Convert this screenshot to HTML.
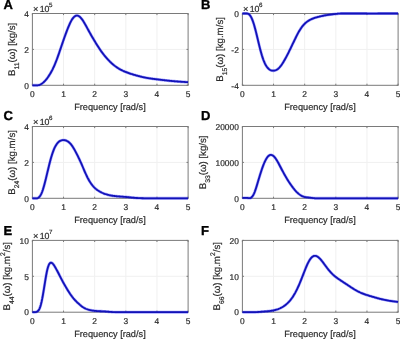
<!DOCTYPE html><html><head><meta charset="utf-8"><style>html,body{margin:0;padding:0;background:#fff;width:400px;height:339px;overflow:hidden}svg{display:block}text{font-family:"Liberation Sans", Arial, Helvetica, sans-serif;fill:#2b2b2b;stroke:#2b2b2b;stroke-width:0.2px;text-rendering:geometricPrecision}</style></head><body>
<svg width="400" height="339" viewBox="0 0 400 339">
<rect width="400" height="339" fill="#fff"/>
<line x1="63.54" y1="13.50" x2="63.54" y2="85.30" stroke="#f0f0f0" stroke-width="1"/>
<line x1="94.68" y1="13.50" x2="94.68" y2="85.30" stroke="#f0f0f0" stroke-width="1"/>
<line x1="125.82" y1="13.50" x2="125.82" y2="85.30" stroke="#f0f0f0" stroke-width="1"/>
<line x1="156.96" y1="13.50" x2="156.96" y2="85.30" stroke="#f0f0f0" stroke-width="1"/>
<line x1="32.40" y1="49.40" x2="188.10" y2="49.40" stroke="#f0f0f0" stroke-width="1"/>
<rect x="32.40" y="13.50" width="155.70" height="71.80" fill="none" stroke="#7a7a7a" stroke-width="1"/>
<line x1="32.40" y1="85.30" x2="32.40" y2="83.70" stroke="#7a7a7a" stroke-width="1"/>
<line x1="32.40" y1="13.50" x2="32.40" y2="15.10" stroke="#7a7a7a" stroke-width="1"/>
<line x1="63.54" y1="85.30" x2="63.54" y2="83.70" stroke="#7a7a7a" stroke-width="1"/>
<line x1="63.54" y1="13.50" x2="63.54" y2="15.10" stroke="#7a7a7a" stroke-width="1"/>
<line x1="94.68" y1="85.30" x2="94.68" y2="83.70" stroke="#7a7a7a" stroke-width="1"/>
<line x1="94.68" y1="13.50" x2="94.68" y2="15.10" stroke="#7a7a7a" stroke-width="1"/>
<line x1="125.82" y1="85.30" x2="125.82" y2="83.70" stroke="#7a7a7a" stroke-width="1"/>
<line x1="125.82" y1="13.50" x2="125.82" y2="15.10" stroke="#7a7a7a" stroke-width="1"/>
<line x1="156.96" y1="85.30" x2="156.96" y2="83.70" stroke="#7a7a7a" stroke-width="1"/>
<line x1="156.96" y1="13.50" x2="156.96" y2="15.10" stroke="#7a7a7a" stroke-width="1"/>
<line x1="188.10" y1="85.30" x2="188.10" y2="83.70" stroke="#7a7a7a" stroke-width="1"/>
<line x1="188.10" y1="13.50" x2="188.10" y2="15.10" stroke="#7a7a7a" stroke-width="1"/>
<line x1="32.40" y1="85.30" x2="34.00" y2="85.30" stroke="#7a7a7a" stroke-width="1"/>
<line x1="188.10" y1="85.30" x2="186.50" y2="85.30" stroke="#7a7a7a" stroke-width="1"/>
<line x1="32.40" y1="49.40" x2="34.00" y2="49.40" stroke="#7a7a7a" stroke-width="1"/>
<line x1="188.10" y1="49.40" x2="186.50" y2="49.40" stroke="#7a7a7a" stroke-width="1"/>
<line x1="32.40" y1="13.50" x2="34.00" y2="13.50" stroke="#7a7a7a" stroke-width="1"/>
<line x1="188.10" y1="13.50" x2="186.50" y2="13.50" stroke="#7a7a7a" stroke-width="1"/>
<path d="M32.40 85.30 L33.05 85.30 L33.70 85.30 L34.35 85.30 L35.01 85.30 L35.66 85.30 L36.31 85.30 L36.96 85.30 L37.61 85.30 L38.26 85.22 L38.91 85.05 L39.57 84.82 L40.22 84.53 L40.87 84.19 L41.52 83.81 L42.17 83.38 L42.82 82.90 L43.47 82.36 L44.13 81.76 L44.78 81.10 L45.43 80.39 L46.08 79.64 L46.73 78.83 L47.38 77.98 L48.04 77.07 L48.69 76.12 L49.34 75.11 L49.99 74.06 L50.64 72.95 L51.29 71.79 L51.94 70.57 L52.60 69.29 L53.25 67.95 L53.90 66.54 L54.55 65.07 L55.20 63.52 L55.85 61.91 L56.50 60.23 L57.16 58.48 L57.81 56.68 L58.46 54.83 L59.11 52.96 L59.76 51.06 L60.41 49.15 L61.06 47.23 L61.72 45.31 L62.37 43.40 L63.02 41.50 L63.67 39.62 L64.32 37.77 L64.97 35.95 L65.62 34.16 L66.28 32.40 L66.93 30.69 L67.58 29.01 L68.23 27.38 L68.88 25.81 L69.53 24.31 L70.18 22.90 L70.84 21.60 L71.49 20.40 L72.14 19.33 L72.79 18.38 L73.44 17.57 L74.09 16.89 L74.75 16.36 L75.40 15.96 L76.05 15.69 L76.70 15.57 L77.35 15.59 L78.00 15.74 L78.65 16.01 L79.31 16.42 L79.96 16.94 L80.61 17.58 L81.26 18.33 L81.91 19.17 L82.56 20.08 L83.21 21.07 L83.87 22.12 L84.52 23.22 L85.17 24.35 L85.82 25.51 L86.47 26.69 L87.12 27.88 L87.77 29.07 L88.43 30.26 L89.08 31.45 L89.73 32.63 L90.38 33.79 L91.03 34.94 L91.68 36.08 L92.33 37.20 L92.99 38.31 L93.64 39.41 L94.29 40.50 L94.94 41.58 L95.59 42.65 L96.24 43.72 L96.89 44.77 L97.55 45.80 L98.20 46.83 L98.85 47.83 L99.50 48.81 L100.15 49.77 L100.80 50.70 L101.46 51.62 L102.11 52.50 L102.76 53.37 L103.41 54.21 L104.06 55.03 L104.71 55.83 L105.36 56.61 L106.02 57.37 L106.67 58.12 L107.32 58.85 L107.97 59.56 L108.62 60.25 L109.27 60.93 L109.92 61.59 L110.58 62.23 L111.23 62.85 L111.88 63.45 L112.53 64.02 L113.18 64.58 L113.83 65.12 L114.48 65.64 L115.14 66.14 L115.79 66.62 L116.44 67.08 L117.09 67.52 L117.74 67.95 L118.39 68.36 L119.04 68.75 L119.70 69.12 L120.35 69.49 L121.00 69.83 L121.65 70.16 L122.30 70.48 L122.95 70.79 L123.61 71.08 L124.26 71.36 L124.91 71.64 L125.56 71.90 L126.21 72.15 L126.86 72.40 L127.51 72.64 L128.17 72.88 L128.82 73.11 L129.47 73.34 L130.12 73.56 L130.77 73.78 L131.42 73.99 L132.07 74.20 L132.73 74.40 L133.38 74.60 L134.03 74.79 L134.68 74.98 L135.33 75.17 L135.98 75.35 L136.63 75.53 L137.29 75.71 L137.94 75.89 L138.59 76.06 L139.24 76.23 L139.89 76.40 L140.54 76.57 L141.19 76.73 L141.85 76.89 L142.50 77.04 L143.15 77.19 L143.80 77.33 L144.45 77.47 L145.10 77.60 L145.75 77.72 L146.41 77.84 L147.06 77.96 L147.71 78.07 L148.36 78.18 L149.01 78.28 L149.66 78.38 L150.32 78.47 L150.97 78.57 L151.62 78.66 L152.27 78.74 L152.92 78.83 L153.57 78.91 L154.22 79.00 L154.88 79.08 L155.53 79.16 L156.18 79.24 L156.83 79.31 L157.48 79.39 L158.13 79.47 L158.78 79.55 L159.44 79.63 L160.09 79.71 L160.74 79.79 L161.39 79.87 L162.04 79.94 L162.69 80.02 L163.34 80.10 L164.00 80.18 L164.65 80.25 L165.30 80.33 L165.95 80.40 L166.60 80.48 L167.25 80.55 L167.90 80.62 L168.56 80.69 L169.21 80.76 L169.86 80.83 L170.51 80.89 L171.16 80.96 L171.81 81.02 L172.46 81.08 L173.12 81.13 L173.77 81.19 L174.42 81.24 L175.07 81.30 L175.72 81.35 L176.37 81.40 L177.03 81.45 L177.68 81.50 L178.33 81.55 L178.98 81.59 L179.63 81.64 L180.28 81.69 L180.93 81.73 L181.59 81.78 L182.24 81.82 L182.89 81.86 L183.54 81.91 L184.19 81.95 L184.84 81.99 L185.49 82.03 L186.15 82.08 L186.80 82.12 L187.45 82.16 L188.10 82.20" fill="none" stroke="#3c3cff" stroke-opacity="0.45" stroke-width="2.90" stroke-linejoin="round" stroke-linecap="butt"/>
<path d="M32.40 85.30 L33.05 85.30 L33.70 85.30 L34.35 85.30 L35.01 85.30 L35.66 85.30 L36.31 85.30 L36.96 85.30 L37.61 85.30 L38.26 85.22 L38.91 85.05 L39.57 84.82 L40.22 84.53 L40.87 84.19 L41.52 83.81 L42.17 83.38 L42.82 82.90 L43.47 82.36 L44.13 81.76 L44.78 81.10 L45.43 80.39 L46.08 79.64 L46.73 78.83 L47.38 77.98 L48.04 77.07 L48.69 76.12 L49.34 75.11 L49.99 74.06 L50.64 72.95 L51.29 71.79 L51.94 70.57 L52.60 69.29 L53.25 67.95 L53.90 66.54 L54.55 65.07 L55.20 63.52 L55.85 61.91 L56.50 60.23 L57.16 58.48 L57.81 56.68 L58.46 54.83 L59.11 52.96 L59.76 51.06 L60.41 49.15 L61.06 47.23 L61.72 45.31 L62.37 43.40 L63.02 41.50 L63.67 39.62 L64.32 37.77 L64.97 35.95 L65.62 34.16 L66.28 32.40 L66.93 30.69 L67.58 29.01 L68.23 27.38 L68.88 25.81 L69.53 24.31 L70.18 22.90 L70.84 21.60 L71.49 20.40 L72.14 19.33 L72.79 18.38 L73.44 17.57 L74.09 16.89 L74.75 16.36 L75.40 15.96 L76.05 15.69 L76.70 15.57 L77.35 15.59 L78.00 15.74 L78.65 16.01 L79.31 16.42 L79.96 16.94 L80.61 17.58 L81.26 18.33 L81.91 19.17 L82.56 20.08 L83.21 21.07 L83.87 22.12 L84.52 23.22 L85.17 24.35 L85.82 25.51 L86.47 26.69 L87.12 27.88 L87.77 29.07 L88.43 30.26 L89.08 31.45 L89.73 32.63 L90.38 33.79 L91.03 34.94 L91.68 36.08 L92.33 37.20 L92.99 38.31 L93.64 39.41 L94.29 40.50 L94.94 41.58 L95.59 42.65 L96.24 43.72 L96.89 44.77 L97.55 45.80 L98.20 46.83 L98.85 47.83 L99.50 48.81 L100.15 49.77 L100.80 50.70 L101.46 51.62 L102.11 52.50 L102.76 53.37 L103.41 54.21 L104.06 55.03 L104.71 55.83 L105.36 56.61 L106.02 57.37 L106.67 58.12 L107.32 58.85 L107.97 59.56 L108.62 60.25 L109.27 60.93 L109.92 61.59 L110.58 62.23 L111.23 62.85 L111.88 63.45 L112.53 64.02 L113.18 64.58 L113.83 65.12 L114.48 65.64 L115.14 66.14 L115.79 66.62 L116.44 67.08 L117.09 67.52 L117.74 67.95 L118.39 68.36 L119.04 68.75 L119.70 69.12 L120.35 69.49 L121.00 69.83 L121.65 70.16 L122.30 70.48 L122.95 70.79 L123.61 71.08 L124.26 71.36 L124.91 71.64 L125.56 71.90 L126.21 72.15 L126.86 72.40 L127.51 72.64 L128.17 72.88 L128.82 73.11 L129.47 73.34 L130.12 73.56 L130.77 73.78 L131.42 73.99 L132.07 74.20 L132.73 74.40 L133.38 74.60 L134.03 74.79 L134.68 74.98 L135.33 75.17 L135.98 75.35 L136.63 75.53 L137.29 75.71 L137.94 75.89 L138.59 76.06 L139.24 76.23 L139.89 76.40 L140.54 76.57 L141.19 76.73 L141.85 76.89 L142.50 77.04 L143.15 77.19 L143.80 77.33 L144.45 77.47 L145.10 77.60 L145.75 77.72 L146.41 77.84 L147.06 77.96 L147.71 78.07 L148.36 78.18 L149.01 78.28 L149.66 78.38 L150.32 78.47 L150.97 78.57 L151.62 78.66 L152.27 78.74 L152.92 78.83 L153.57 78.91 L154.22 79.00 L154.88 79.08 L155.53 79.16 L156.18 79.24 L156.83 79.31 L157.48 79.39 L158.13 79.47 L158.78 79.55 L159.44 79.63 L160.09 79.71 L160.74 79.79 L161.39 79.87 L162.04 79.94 L162.69 80.02 L163.34 80.10 L164.00 80.18 L164.65 80.25 L165.30 80.33 L165.95 80.40 L166.60 80.48 L167.25 80.55 L167.90 80.62 L168.56 80.69 L169.21 80.76 L169.86 80.83 L170.51 80.89 L171.16 80.96 L171.81 81.02 L172.46 81.08 L173.12 81.13 L173.77 81.19 L174.42 81.24 L175.07 81.30 L175.72 81.35 L176.37 81.40 L177.03 81.45 L177.68 81.50 L178.33 81.55 L178.98 81.59 L179.63 81.64 L180.28 81.69 L180.93 81.73 L181.59 81.78 L182.24 81.82 L182.89 81.86 L183.54 81.91 L184.19 81.95 L184.84 81.99 L185.49 82.03 L186.15 82.08 L186.80 82.12 L187.45 82.16 L188.10 82.20" fill="none" stroke="#1212b8" stroke-width="1.80" stroke-linejoin="round" stroke-linecap="butt"/>
<text x="32.40" y="97.10" font-size="8.40" text-anchor="middle">0</text>
<text x="63.54" y="97.10" font-size="8.40" text-anchor="middle">1</text>
<text x="94.68" y="97.10" font-size="8.40" text-anchor="middle">2</text>
<text x="125.82" y="97.10" font-size="8.40" text-anchor="middle">3</text>
<text x="156.96" y="97.10" font-size="8.40" text-anchor="middle">4</text>
<text x="188.10" y="97.10" font-size="8.40" text-anchor="middle">5</text>
<text x="28.80" y="88.50" font-size="8.40" text-anchor="end">0</text>
<text x="28.80" y="52.60" font-size="8.40" text-anchor="end">2</text>
<text x="28.80" y="16.70" font-size="8.40" text-anchor="end">4</text>
<text x="32.90" y="12.00" font-size="9.2">×</text>
<text x="39.70" y="11.60" font-size="8.8">10</text>
<text x="49.00" y="6.90" font-size="6.2">5</text>
<text x="109.95" y="110.10" font-size="9.20" text-anchor="middle">Frequency [rad/s]</text>
<text transform="translate(14.70 49.40) rotate(-90)" font-size="9.70" text-anchor="middle"><tspan dy="0.00">B</tspan><tspan font-size="6.79" dy="4.20">11</tspan><tspan dy="-4.20">(ω) [kg/s]</tspan></text>
<text x="3.50" y="9.00" font-size="13" font-weight="bold" style="fill:#000;stroke:#000;stroke-width:0.35px">A</text>
<line x1="273.54" y1="13.50" x2="273.54" y2="85.30" stroke="#f0f0f0" stroke-width="1"/>
<line x1="304.68" y1="13.50" x2="304.68" y2="85.30" stroke="#f0f0f0" stroke-width="1"/>
<line x1="335.82" y1="13.50" x2="335.82" y2="85.30" stroke="#f0f0f0" stroke-width="1"/>
<line x1="366.96" y1="13.50" x2="366.96" y2="85.30" stroke="#f0f0f0" stroke-width="1"/>
<line x1="242.40" y1="49.40" x2="398.10" y2="49.40" stroke="#f0f0f0" stroke-width="1"/>
<rect x="242.40" y="13.50" width="155.70" height="71.80" fill="none" stroke="#7a7a7a" stroke-width="1"/>
<line x1="242.40" y1="85.30" x2="242.40" y2="83.70" stroke="#7a7a7a" stroke-width="1"/>
<line x1="242.40" y1="13.50" x2="242.40" y2="15.10" stroke="#7a7a7a" stroke-width="1"/>
<line x1="273.54" y1="85.30" x2="273.54" y2="83.70" stroke="#7a7a7a" stroke-width="1"/>
<line x1="273.54" y1="13.50" x2="273.54" y2="15.10" stroke="#7a7a7a" stroke-width="1"/>
<line x1="304.68" y1="85.30" x2="304.68" y2="83.70" stroke="#7a7a7a" stroke-width="1"/>
<line x1="304.68" y1="13.50" x2="304.68" y2="15.10" stroke="#7a7a7a" stroke-width="1"/>
<line x1="335.82" y1="85.30" x2="335.82" y2="83.70" stroke="#7a7a7a" stroke-width="1"/>
<line x1="335.82" y1="13.50" x2="335.82" y2="15.10" stroke="#7a7a7a" stroke-width="1"/>
<line x1="366.96" y1="85.30" x2="366.96" y2="83.70" stroke="#7a7a7a" stroke-width="1"/>
<line x1="366.96" y1="13.50" x2="366.96" y2="15.10" stroke="#7a7a7a" stroke-width="1"/>
<line x1="398.10" y1="85.30" x2="398.10" y2="83.70" stroke="#7a7a7a" stroke-width="1"/>
<line x1="398.10" y1="13.50" x2="398.10" y2="15.10" stroke="#7a7a7a" stroke-width="1"/>
<line x1="242.40" y1="85.30" x2="244.00" y2="85.30" stroke="#7a7a7a" stroke-width="1"/>
<line x1="398.10" y1="85.30" x2="396.50" y2="85.30" stroke="#7a7a7a" stroke-width="1"/>
<line x1="242.40" y1="49.40" x2="244.00" y2="49.40" stroke="#7a7a7a" stroke-width="1"/>
<line x1="398.10" y1="49.40" x2="396.50" y2="49.40" stroke="#7a7a7a" stroke-width="1"/>
<line x1="242.40" y1="13.50" x2="244.00" y2="13.50" stroke="#7a7a7a" stroke-width="1"/>
<line x1="398.10" y1="13.50" x2="396.50" y2="13.50" stroke="#7a7a7a" stroke-width="1"/>
<path d="M242.40 13.50 L243.05 13.50 L243.70 13.50 L244.35 13.50 L245.01 13.50 L245.66 13.50 L246.31 13.50 L246.96 13.50 L247.61 13.57 L248.26 13.83 L248.91 14.24 L249.57 14.83 L250.22 15.63 L250.87 16.65 L251.52 17.89 L252.17 19.37 L252.82 21.06 L253.47 22.98 L254.13 25.09 L254.78 27.39 L255.43 29.83 L256.08 32.40 L256.73 35.05 L257.38 37.76 L258.04 40.50 L258.69 43.22 L259.34 45.90 L259.99 48.50 L260.64 50.99 L261.29 53.35 L261.94 55.56 L262.60 57.60 L263.25 59.47 L263.90 61.17 L264.55 62.69 L265.20 64.06 L265.85 65.26 L266.50 66.31 L267.16 67.22 L267.81 68.00 L268.46 68.66 L269.11 69.21 L269.76 69.66 L270.41 70.03 L271.06 70.31 L271.72 70.51 L272.37 70.64 L273.02 70.70 L273.67 70.69 L274.32 70.62 L274.97 70.47 L275.62 70.26 L276.28 69.98 L276.93 69.62 L277.58 69.18 L278.23 68.67 L278.88 68.08 L279.53 67.41 L280.18 66.66 L280.84 65.84 L281.49 64.95 L282.14 63.99 L282.79 62.98 L283.44 61.93 L284.09 60.83 L284.75 59.69 L285.40 58.52 L286.05 57.32 L286.70 56.10 L287.35 54.85 L288.00 53.58 L288.65 52.29 L289.31 50.97 L289.96 49.64 L290.61 48.29 L291.26 46.94 L291.91 45.58 L292.56 44.23 L293.21 42.87 L293.87 41.52 L294.52 40.17 L295.17 38.83 L295.82 37.49 L296.47 36.18 L297.12 34.89 L297.77 33.64 L298.43 32.43 L299.08 31.28 L299.73 30.18 L300.38 29.15 L301.03 28.17 L301.68 27.26 L302.33 26.40 L302.99 25.61 L303.64 24.86 L304.29 24.17 L304.94 23.53 L305.59 22.93 L306.24 22.37 L306.89 21.85 L307.55 21.37 L308.20 20.93 L308.85 20.51 L309.50 20.13 L310.15 19.78 L310.80 19.45 L311.46 19.15 L312.11 18.86 L312.76 18.60 L313.41 18.36 L314.06 18.13 L314.71 17.91 L315.36 17.71 L316.02 17.51 L316.67 17.32 L317.32 17.14 L317.97 16.97 L318.62 16.80 L319.27 16.64 L319.92 16.48 L320.58 16.32 L321.23 16.17 L321.88 16.03 L322.53 15.89 L323.18 15.75 L323.83 15.62 L324.48 15.49 L325.14 15.37 L325.79 15.25 L326.44 15.14 L327.09 15.04 L327.74 14.94 L328.39 14.85 L329.04 14.75 L329.70 14.66 L330.35 14.58 L331.00 14.49 L331.65 14.41 L332.30 14.33 L332.95 14.25 L333.61 14.18 L334.26 14.10 L334.91 14.03 L335.56 13.96 L336.21 13.89 L336.86 13.83 L337.51 13.77 L338.17 13.71 L338.82 13.66 L339.47 13.61 L340.12 13.56 L340.77 13.52 L341.42 13.50 L342.07 13.50 L342.73 13.50 L343.38 13.50 L344.03 13.50 L344.68 13.50 L345.33 13.50 L345.98 13.50 L346.63 13.50 L347.29 13.50 L347.94 13.50 L348.59 13.50 L349.24 13.50 L349.89 13.50 L350.54 13.50 L351.19 13.50 L351.85 13.50 L352.50 13.50 L353.15 13.50 L353.80 13.50 L354.45 13.50 L355.10 13.50 L355.75 13.50 L356.41 13.50 L357.06 13.50 L357.71 13.50 L358.36 13.50 L359.01 13.50 L359.66 13.50 L360.32 13.50 L360.97 13.50 L361.62 13.50 L362.27 13.50 L362.92 13.50 L363.57 13.50 L364.22 13.50 L364.88 13.50 L365.53 13.50 L366.18 13.51 L366.83 13.52 L367.48 13.53 L368.13 13.53 L368.78 13.54 L369.44 13.54 L370.09 13.54 L370.74 13.55 L371.39 13.55 L372.04 13.55 L372.69 13.55 L373.34 13.55 L374.00 13.55 L374.65 13.54 L375.30 13.54 L375.95 13.54 L376.60 13.53 L377.25 13.53 L377.90 13.52 L378.56 13.51 L379.21 13.51 L379.86 13.50 L380.51 13.50 L381.16 13.50 L381.81 13.50 L382.46 13.50 L383.12 13.50 L383.77 13.50 L384.42 13.50 L385.07 13.50 L385.72 13.50 L386.37 13.50 L387.03 13.50 L387.68 13.50 L388.33 13.50 L388.98 13.50 L389.63 13.50 L390.28 13.50 L390.93 13.50 L391.59 13.50 L392.24 13.50 L392.89 13.50 L393.54 13.50 L394.19 13.50 L394.84 13.50 L395.49 13.50 L396.15 13.50 L396.80 13.50 L397.45 13.50 L398.10 13.50" fill="none" stroke="#3c3cff" stroke-opacity="0.45" stroke-width="2.90" stroke-linejoin="round" stroke-linecap="butt"/>
<path d="M242.40 13.50 L243.05 13.50 L243.70 13.50 L244.35 13.50 L245.01 13.50 L245.66 13.50 L246.31 13.50 L246.96 13.50 L247.61 13.57 L248.26 13.83 L248.91 14.24 L249.57 14.83 L250.22 15.63 L250.87 16.65 L251.52 17.89 L252.17 19.37 L252.82 21.06 L253.47 22.98 L254.13 25.09 L254.78 27.39 L255.43 29.83 L256.08 32.40 L256.73 35.05 L257.38 37.76 L258.04 40.50 L258.69 43.22 L259.34 45.90 L259.99 48.50 L260.64 50.99 L261.29 53.35 L261.94 55.56 L262.60 57.60 L263.25 59.47 L263.90 61.17 L264.55 62.69 L265.20 64.06 L265.85 65.26 L266.50 66.31 L267.16 67.22 L267.81 68.00 L268.46 68.66 L269.11 69.21 L269.76 69.66 L270.41 70.03 L271.06 70.31 L271.72 70.51 L272.37 70.64 L273.02 70.70 L273.67 70.69 L274.32 70.62 L274.97 70.47 L275.62 70.26 L276.28 69.98 L276.93 69.62 L277.58 69.18 L278.23 68.67 L278.88 68.08 L279.53 67.41 L280.18 66.66 L280.84 65.84 L281.49 64.95 L282.14 63.99 L282.79 62.98 L283.44 61.93 L284.09 60.83 L284.75 59.69 L285.40 58.52 L286.05 57.32 L286.70 56.10 L287.35 54.85 L288.00 53.58 L288.65 52.29 L289.31 50.97 L289.96 49.64 L290.61 48.29 L291.26 46.94 L291.91 45.58 L292.56 44.23 L293.21 42.87 L293.87 41.52 L294.52 40.17 L295.17 38.83 L295.82 37.49 L296.47 36.18 L297.12 34.89 L297.77 33.64 L298.43 32.43 L299.08 31.28 L299.73 30.18 L300.38 29.15 L301.03 28.17 L301.68 27.26 L302.33 26.40 L302.99 25.61 L303.64 24.86 L304.29 24.17 L304.94 23.53 L305.59 22.93 L306.24 22.37 L306.89 21.85 L307.55 21.37 L308.20 20.93 L308.85 20.51 L309.50 20.13 L310.15 19.78 L310.80 19.45 L311.46 19.15 L312.11 18.86 L312.76 18.60 L313.41 18.36 L314.06 18.13 L314.71 17.91 L315.36 17.71 L316.02 17.51 L316.67 17.32 L317.32 17.14 L317.97 16.97 L318.62 16.80 L319.27 16.64 L319.92 16.48 L320.58 16.32 L321.23 16.17 L321.88 16.03 L322.53 15.89 L323.18 15.75 L323.83 15.62 L324.48 15.49 L325.14 15.37 L325.79 15.25 L326.44 15.14 L327.09 15.04 L327.74 14.94 L328.39 14.85 L329.04 14.75 L329.70 14.66 L330.35 14.58 L331.00 14.49 L331.65 14.41 L332.30 14.33 L332.95 14.25 L333.61 14.18 L334.26 14.10 L334.91 14.03 L335.56 13.96 L336.21 13.89 L336.86 13.83 L337.51 13.77 L338.17 13.71 L338.82 13.66 L339.47 13.61 L340.12 13.56 L340.77 13.52 L341.42 13.50 L342.07 13.50 L342.73 13.50 L343.38 13.50 L344.03 13.50 L344.68 13.50 L345.33 13.50 L345.98 13.50 L346.63 13.50 L347.29 13.50 L347.94 13.50 L348.59 13.50 L349.24 13.50 L349.89 13.50 L350.54 13.50 L351.19 13.50 L351.85 13.50 L352.50 13.50 L353.15 13.50 L353.80 13.50 L354.45 13.50 L355.10 13.50 L355.75 13.50 L356.41 13.50 L357.06 13.50 L357.71 13.50 L358.36 13.50 L359.01 13.50 L359.66 13.50 L360.32 13.50 L360.97 13.50 L361.62 13.50 L362.27 13.50 L362.92 13.50 L363.57 13.50 L364.22 13.50 L364.88 13.50 L365.53 13.50 L366.18 13.51 L366.83 13.52 L367.48 13.53 L368.13 13.53 L368.78 13.54 L369.44 13.54 L370.09 13.54 L370.74 13.55 L371.39 13.55 L372.04 13.55 L372.69 13.55 L373.34 13.55 L374.00 13.55 L374.65 13.54 L375.30 13.54 L375.95 13.54 L376.60 13.53 L377.25 13.53 L377.90 13.52 L378.56 13.51 L379.21 13.51 L379.86 13.50 L380.51 13.50 L381.16 13.50 L381.81 13.50 L382.46 13.50 L383.12 13.50 L383.77 13.50 L384.42 13.50 L385.07 13.50 L385.72 13.50 L386.37 13.50 L387.03 13.50 L387.68 13.50 L388.33 13.50 L388.98 13.50 L389.63 13.50 L390.28 13.50 L390.93 13.50 L391.59 13.50 L392.24 13.50 L392.89 13.50 L393.54 13.50 L394.19 13.50 L394.84 13.50 L395.49 13.50 L396.15 13.50 L396.80 13.50 L397.45 13.50 L398.10 13.50" fill="none" stroke="#1212b8" stroke-width="1.80" stroke-linejoin="round" stroke-linecap="butt"/>
<text x="242.40" y="97.10" font-size="8.40" text-anchor="middle">0</text>
<text x="273.54" y="97.10" font-size="8.40" text-anchor="middle">1</text>
<text x="304.68" y="97.10" font-size="8.40" text-anchor="middle">2</text>
<text x="335.82" y="97.10" font-size="8.40" text-anchor="middle">3</text>
<text x="366.96" y="97.10" font-size="8.40" text-anchor="middle">4</text>
<text x="398.10" y="97.10" font-size="8.40" text-anchor="middle">5</text>
<text x="238.80" y="88.50" font-size="8.40" text-anchor="end">-4</text>
<text x="238.80" y="52.60" font-size="8.40" text-anchor="end">-2</text>
<text x="238.80" y="16.70" font-size="8.40" text-anchor="end">0</text>
<text x="242.90" y="12.00" font-size="9.2">×</text>
<text x="249.70" y="11.60" font-size="8.8">10</text>
<text x="259.00" y="6.90" font-size="6.2">6</text>
<text x="319.95" y="110.10" font-size="9.20" text-anchor="middle">Frequency [rad/s]</text>
<text transform="translate(222.50 49.40) rotate(-90)" font-size="9.70" text-anchor="middle"><tspan dy="0.00">B</tspan><tspan font-size="6.79" dy="4.20">15</tspan><tspan dy="-4.20">(ω) [kg.m/s]</tspan></text>
<text x="201.00" y="9.00" font-size="13" font-weight="bold" style="fill:#000;stroke:#000;stroke-width:0.35px">B</text>
<line x1="63.54" y1="126.50" x2="63.54" y2="198.30" stroke="#f0f0f0" stroke-width="1"/>
<line x1="94.68" y1="126.50" x2="94.68" y2="198.30" stroke="#f0f0f0" stroke-width="1"/>
<line x1="125.82" y1="126.50" x2="125.82" y2="198.30" stroke="#f0f0f0" stroke-width="1"/>
<line x1="156.96" y1="126.50" x2="156.96" y2="198.30" stroke="#f0f0f0" stroke-width="1"/>
<line x1="32.40" y1="162.40" x2="188.10" y2="162.40" stroke="#f0f0f0" stroke-width="1"/>
<rect x="32.40" y="126.50" width="155.70" height="71.80" fill="none" stroke="#7a7a7a" stroke-width="1"/>
<line x1="32.40" y1="198.30" x2="32.40" y2="196.70" stroke="#7a7a7a" stroke-width="1"/>
<line x1="32.40" y1="126.50" x2="32.40" y2="128.10" stroke="#7a7a7a" stroke-width="1"/>
<line x1="63.54" y1="198.30" x2="63.54" y2="196.70" stroke="#7a7a7a" stroke-width="1"/>
<line x1="63.54" y1="126.50" x2="63.54" y2="128.10" stroke="#7a7a7a" stroke-width="1"/>
<line x1="94.68" y1="198.30" x2="94.68" y2="196.70" stroke="#7a7a7a" stroke-width="1"/>
<line x1="94.68" y1="126.50" x2="94.68" y2="128.10" stroke="#7a7a7a" stroke-width="1"/>
<line x1="125.82" y1="198.30" x2="125.82" y2="196.70" stroke="#7a7a7a" stroke-width="1"/>
<line x1="125.82" y1="126.50" x2="125.82" y2="128.10" stroke="#7a7a7a" stroke-width="1"/>
<line x1="156.96" y1="198.30" x2="156.96" y2="196.70" stroke="#7a7a7a" stroke-width="1"/>
<line x1="156.96" y1="126.50" x2="156.96" y2="128.10" stroke="#7a7a7a" stroke-width="1"/>
<line x1="188.10" y1="198.30" x2="188.10" y2="196.70" stroke="#7a7a7a" stroke-width="1"/>
<line x1="188.10" y1="126.50" x2="188.10" y2="128.10" stroke="#7a7a7a" stroke-width="1"/>
<line x1="32.40" y1="198.30" x2="34.00" y2="198.30" stroke="#7a7a7a" stroke-width="1"/>
<line x1="188.10" y1="198.30" x2="186.50" y2="198.30" stroke="#7a7a7a" stroke-width="1"/>
<line x1="32.40" y1="162.40" x2="34.00" y2="162.40" stroke="#7a7a7a" stroke-width="1"/>
<line x1="188.10" y1="162.40" x2="186.50" y2="162.40" stroke="#7a7a7a" stroke-width="1"/>
<line x1="32.40" y1="126.50" x2="34.00" y2="126.50" stroke="#7a7a7a" stroke-width="1"/>
<line x1="188.10" y1="126.50" x2="186.50" y2="126.50" stroke="#7a7a7a" stroke-width="1"/>
<path d="M32.40 198.30 L33.05 198.30 L33.70 198.30 L34.35 198.30 L35.01 198.30 L35.66 198.30 L36.31 198.30 L36.96 198.29 L37.61 198.08 L38.26 197.75 L38.91 197.28 L39.57 196.62 L40.22 195.76 L40.87 194.66 L41.52 193.32 L42.17 191.72 L42.82 189.86 L43.47 187.78 L44.13 185.50 L44.78 183.06 L45.43 180.50 L46.08 177.85 L46.73 175.14 L47.38 172.41 L48.04 169.68 L48.69 166.98 L49.34 164.34 L49.99 161.78 L50.64 159.35 L51.29 157.04 L51.94 154.90 L52.60 152.91 L53.25 151.10 L53.90 149.44 L54.55 147.96 L55.20 146.63 L55.85 145.45 L56.50 144.42 L57.16 143.52 L57.81 142.75 L58.46 142.11 L59.11 141.56 L59.76 141.12 L60.41 140.77 L61.06 140.50 L61.72 140.30 L62.37 140.17 L63.02 140.11 L63.67 140.10 L64.32 140.15 L64.97 140.26 L65.62 140.43 L66.28 140.66 L66.93 140.95 L67.58 141.30 L68.23 141.72 L68.88 142.21 L69.53 142.78 L70.18 143.43 L70.84 144.17 L71.49 144.99 L72.14 145.89 L72.79 146.87 L73.44 147.90 L74.09 149.00 L74.75 150.15 L75.40 151.35 L76.05 152.58 L76.70 153.84 L77.35 155.14 L78.00 156.45 L78.65 157.79 L79.31 159.16 L79.96 160.57 L80.61 162.00 L81.26 163.47 L81.91 164.97 L82.56 166.49 L83.21 168.02 L83.87 169.55 L84.52 171.06 L85.17 172.55 L85.82 174.00 L86.47 175.41 L87.12 176.76 L87.77 178.06 L88.43 179.29 L89.08 180.45 L89.73 181.54 L90.38 182.56 L91.03 183.52 L91.68 184.42 L92.33 185.26 L92.99 186.04 L93.64 186.77 L94.29 187.44 L94.94 188.07 L95.59 188.64 L96.24 189.18 L96.89 189.69 L97.55 190.16 L98.20 190.60 L98.85 191.01 L99.50 191.40 L100.15 191.76 L100.80 192.10 L101.46 192.43 L102.11 192.74 L102.76 193.03 L103.41 193.30 L104.06 193.56 L104.71 193.80 L105.36 194.03 L106.02 194.24 L106.67 194.44 L107.32 194.63 L107.97 194.81 L108.62 194.97 L109.27 195.13 L109.92 195.27 L110.58 195.40 L111.23 195.52 L111.88 195.63 L112.53 195.74 L113.18 195.84 L113.83 195.93 L114.48 196.01 L115.14 196.09 L115.79 196.17 L116.44 196.24 L117.09 196.30 L117.74 196.36 L118.39 196.42 L119.04 196.47 L119.70 196.52 L120.35 196.57 L121.00 196.62 L121.65 196.66 L122.30 196.70 L122.95 196.75 L123.61 196.79 L124.26 196.84 L124.91 196.89 L125.56 196.94 L126.21 197.00 L126.86 197.06 L127.51 197.12 L128.17 197.18 L128.82 197.25 L129.47 197.31 L130.12 197.38 L130.77 197.45 L131.42 197.52 L132.07 197.58 L132.73 197.65 L133.38 197.71 L134.03 197.77 L134.68 197.83 L135.33 197.89 L135.98 197.94 L136.63 197.98 L137.29 198.02 L137.94 198.06 L138.59 198.10 L139.24 198.13 L139.89 198.16 L140.54 198.19 L141.19 198.21 L141.85 198.23 L142.50 198.25 L143.15 198.26 L143.80 198.28 L144.45 198.29 L145.10 198.30 L145.75 198.30 L146.41 198.30 L147.06 198.30 L147.71 198.30 L148.36 198.30 L149.01 198.30 L149.66 198.30 L150.32 198.30 L150.97 198.30 L151.62 198.30 L152.27 198.30 L152.92 198.30 L153.57 198.30 L154.22 198.30 L154.88 198.30 L155.53 198.30 L156.18 198.30 L156.83 198.30 L157.48 198.30 L158.13 198.30 L158.78 198.30 L159.44 198.30 L160.09 198.30 L160.74 198.30 L161.39 198.30 L162.04 198.30 L162.69 198.30 L163.34 198.30 L164.00 198.30 L164.65 198.30 L165.30 198.30 L165.95 198.30 L166.60 198.30 L167.25 198.30 L167.90 198.30 L168.56 198.30 L169.21 198.30 L169.86 198.30 L170.51 198.30 L171.16 198.30 L171.81 198.30 L172.46 198.30 L173.12 198.30 L173.77 198.30 L174.42 198.30 L175.07 198.30 L175.72 198.30 L176.37 198.30 L177.03 198.30 L177.68 198.30 L178.33 198.30 L178.98 198.30 L179.63 198.30 L180.28 198.30 L180.93 198.30 L181.59 198.30 L182.24 198.30 L182.89 198.30 L183.54 198.30 L184.19 198.30 L184.84 198.30 L185.49 198.30 L186.15 198.30 L186.80 198.30 L187.45 198.30 L188.10 198.30" fill="none" stroke="#3c3cff" stroke-opacity="0.45" stroke-width="2.90" stroke-linejoin="round" stroke-linecap="butt"/>
<path d="M32.40 198.30 L33.05 198.30 L33.70 198.30 L34.35 198.30 L35.01 198.30 L35.66 198.30 L36.31 198.30 L36.96 198.29 L37.61 198.08 L38.26 197.75 L38.91 197.28 L39.57 196.62 L40.22 195.76 L40.87 194.66 L41.52 193.32 L42.17 191.72 L42.82 189.86 L43.47 187.78 L44.13 185.50 L44.78 183.06 L45.43 180.50 L46.08 177.85 L46.73 175.14 L47.38 172.41 L48.04 169.68 L48.69 166.98 L49.34 164.34 L49.99 161.78 L50.64 159.35 L51.29 157.04 L51.94 154.90 L52.60 152.91 L53.25 151.10 L53.90 149.44 L54.55 147.96 L55.20 146.63 L55.85 145.45 L56.50 144.42 L57.16 143.52 L57.81 142.75 L58.46 142.11 L59.11 141.56 L59.76 141.12 L60.41 140.77 L61.06 140.50 L61.72 140.30 L62.37 140.17 L63.02 140.11 L63.67 140.10 L64.32 140.15 L64.97 140.26 L65.62 140.43 L66.28 140.66 L66.93 140.95 L67.58 141.30 L68.23 141.72 L68.88 142.21 L69.53 142.78 L70.18 143.43 L70.84 144.17 L71.49 144.99 L72.14 145.89 L72.79 146.87 L73.44 147.90 L74.09 149.00 L74.75 150.15 L75.40 151.35 L76.05 152.58 L76.70 153.84 L77.35 155.14 L78.00 156.45 L78.65 157.79 L79.31 159.16 L79.96 160.57 L80.61 162.00 L81.26 163.47 L81.91 164.97 L82.56 166.49 L83.21 168.02 L83.87 169.55 L84.52 171.06 L85.17 172.55 L85.82 174.00 L86.47 175.41 L87.12 176.76 L87.77 178.06 L88.43 179.29 L89.08 180.45 L89.73 181.54 L90.38 182.56 L91.03 183.52 L91.68 184.42 L92.33 185.26 L92.99 186.04 L93.64 186.77 L94.29 187.44 L94.94 188.07 L95.59 188.64 L96.24 189.18 L96.89 189.69 L97.55 190.16 L98.20 190.60 L98.85 191.01 L99.50 191.40 L100.15 191.76 L100.80 192.10 L101.46 192.43 L102.11 192.74 L102.76 193.03 L103.41 193.30 L104.06 193.56 L104.71 193.80 L105.36 194.03 L106.02 194.24 L106.67 194.44 L107.32 194.63 L107.97 194.81 L108.62 194.97 L109.27 195.13 L109.92 195.27 L110.58 195.40 L111.23 195.52 L111.88 195.63 L112.53 195.74 L113.18 195.84 L113.83 195.93 L114.48 196.01 L115.14 196.09 L115.79 196.17 L116.44 196.24 L117.09 196.30 L117.74 196.36 L118.39 196.42 L119.04 196.47 L119.70 196.52 L120.35 196.57 L121.00 196.62 L121.65 196.66 L122.30 196.70 L122.95 196.75 L123.61 196.79 L124.26 196.84 L124.91 196.89 L125.56 196.94 L126.21 197.00 L126.86 197.06 L127.51 197.12 L128.17 197.18 L128.82 197.25 L129.47 197.31 L130.12 197.38 L130.77 197.45 L131.42 197.52 L132.07 197.58 L132.73 197.65 L133.38 197.71 L134.03 197.77 L134.68 197.83 L135.33 197.89 L135.98 197.94 L136.63 197.98 L137.29 198.02 L137.94 198.06 L138.59 198.10 L139.24 198.13 L139.89 198.16 L140.54 198.19 L141.19 198.21 L141.85 198.23 L142.50 198.25 L143.15 198.26 L143.80 198.28 L144.45 198.29 L145.10 198.30 L145.75 198.30 L146.41 198.30 L147.06 198.30 L147.71 198.30 L148.36 198.30 L149.01 198.30 L149.66 198.30 L150.32 198.30 L150.97 198.30 L151.62 198.30 L152.27 198.30 L152.92 198.30 L153.57 198.30 L154.22 198.30 L154.88 198.30 L155.53 198.30 L156.18 198.30 L156.83 198.30 L157.48 198.30 L158.13 198.30 L158.78 198.30 L159.44 198.30 L160.09 198.30 L160.74 198.30 L161.39 198.30 L162.04 198.30 L162.69 198.30 L163.34 198.30 L164.00 198.30 L164.65 198.30 L165.30 198.30 L165.95 198.30 L166.60 198.30 L167.25 198.30 L167.90 198.30 L168.56 198.30 L169.21 198.30 L169.86 198.30 L170.51 198.30 L171.16 198.30 L171.81 198.30 L172.46 198.30 L173.12 198.30 L173.77 198.30 L174.42 198.30 L175.07 198.30 L175.72 198.30 L176.37 198.30 L177.03 198.30 L177.68 198.30 L178.33 198.30 L178.98 198.30 L179.63 198.30 L180.28 198.30 L180.93 198.30 L181.59 198.30 L182.24 198.30 L182.89 198.30 L183.54 198.30 L184.19 198.30 L184.84 198.30 L185.49 198.30 L186.15 198.30 L186.80 198.30 L187.45 198.30 L188.10 198.30" fill="none" stroke="#1212b8" stroke-width="1.80" stroke-linejoin="round" stroke-linecap="butt"/>
<text x="32.40" y="210.10" font-size="8.40" text-anchor="middle">0</text>
<text x="63.54" y="210.10" font-size="8.40" text-anchor="middle">1</text>
<text x="94.68" y="210.10" font-size="8.40" text-anchor="middle">2</text>
<text x="125.82" y="210.10" font-size="8.40" text-anchor="middle">3</text>
<text x="156.96" y="210.10" font-size="8.40" text-anchor="middle">4</text>
<text x="188.10" y="210.10" font-size="8.40" text-anchor="middle">5</text>
<text x="28.80" y="201.50" font-size="8.40" text-anchor="end">0</text>
<text x="28.80" y="165.60" font-size="8.40" text-anchor="end">2</text>
<text x="28.80" y="129.70" font-size="8.40" text-anchor="end">4</text>
<text x="32.90" y="125.00" font-size="9.2">×</text>
<text x="39.70" y="124.60" font-size="8.8">10</text>
<text x="49.00" y="119.90" font-size="6.2">6</text>
<text x="109.95" y="223.10" font-size="9.20" text-anchor="middle">Frequency [rad/s]</text>
<text transform="translate(14.70 162.40) rotate(-90)" font-size="9.70" text-anchor="middle"><tspan dy="0.00">B</tspan><tspan font-size="6.79" dy="4.20">24</tspan><tspan dy="-4.20">(ω) [kg.m/s]</tspan></text>
<text x="3.50" y="119.90" font-size="13" font-weight="bold" style="fill:#000;stroke:#000;stroke-width:0.35px">C</text>
<line x1="273.54" y1="126.50" x2="273.54" y2="198.30" stroke="#f0f0f0" stroke-width="1"/>
<line x1="304.68" y1="126.50" x2="304.68" y2="198.30" stroke="#f0f0f0" stroke-width="1"/>
<line x1="335.82" y1="126.50" x2="335.82" y2="198.30" stroke="#f0f0f0" stroke-width="1"/>
<line x1="366.96" y1="126.50" x2="366.96" y2="198.30" stroke="#f0f0f0" stroke-width="1"/>
<line x1="242.40" y1="162.40" x2="398.10" y2="162.40" stroke="#f0f0f0" stroke-width="1"/>
<rect x="242.40" y="126.50" width="155.70" height="71.80" fill="none" stroke="#7a7a7a" stroke-width="1"/>
<line x1="242.40" y1="198.30" x2="242.40" y2="196.70" stroke="#7a7a7a" stroke-width="1"/>
<line x1="242.40" y1="126.50" x2="242.40" y2="128.10" stroke="#7a7a7a" stroke-width="1"/>
<line x1="273.54" y1="198.30" x2="273.54" y2="196.70" stroke="#7a7a7a" stroke-width="1"/>
<line x1="273.54" y1="126.50" x2="273.54" y2="128.10" stroke="#7a7a7a" stroke-width="1"/>
<line x1="304.68" y1="198.30" x2="304.68" y2="196.70" stroke="#7a7a7a" stroke-width="1"/>
<line x1="304.68" y1="126.50" x2="304.68" y2="128.10" stroke="#7a7a7a" stroke-width="1"/>
<line x1="335.82" y1="198.30" x2="335.82" y2="196.70" stroke="#7a7a7a" stroke-width="1"/>
<line x1="335.82" y1="126.50" x2="335.82" y2="128.10" stroke="#7a7a7a" stroke-width="1"/>
<line x1="366.96" y1="198.30" x2="366.96" y2="196.70" stroke="#7a7a7a" stroke-width="1"/>
<line x1="366.96" y1="126.50" x2="366.96" y2="128.10" stroke="#7a7a7a" stroke-width="1"/>
<line x1="398.10" y1="198.30" x2="398.10" y2="196.70" stroke="#7a7a7a" stroke-width="1"/>
<line x1="398.10" y1="126.50" x2="398.10" y2="128.10" stroke="#7a7a7a" stroke-width="1"/>
<line x1="242.40" y1="198.30" x2="244.00" y2="198.30" stroke="#7a7a7a" stroke-width="1"/>
<line x1="398.10" y1="198.30" x2="396.50" y2="198.30" stroke="#7a7a7a" stroke-width="1"/>
<line x1="242.40" y1="162.40" x2="244.00" y2="162.40" stroke="#7a7a7a" stroke-width="1"/>
<line x1="398.10" y1="162.40" x2="396.50" y2="162.40" stroke="#7a7a7a" stroke-width="1"/>
<line x1="242.40" y1="126.50" x2="244.00" y2="126.50" stroke="#7a7a7a" stroke-width="1"/>
<line x1="398.10" y1="126.50" x2="396.50" y2="126.50" stroke="#7a7a7a" stroke-width="1"/>
<path d="M242.40 197.90 L243.05 197.88 L243.70 197.86 L244.35 197.85 L245.01 197.85 L245.66 197.86 L246.31 197.88 L246.96 197.91 L247.61 197.96 L248.26 198.03 L248.91 198.10 L249.57 198.11 L250.22 198.03 L250.87 197.80 L251.52 197.38 L252.17 196.73 L252.82 195.84 L253.47 194.71 L254.13 193.34 L254.78 191.73 L255.43 189.93 L256.08 187.97 L256.73 185.88 L257.38 183.72 L258.04 181.52 L258.69 179.33 L259.34 177.15 L259.99 175.02 L260.64 172.95 L261.29 170.94 L261.94 169.01 L262.60 167.16 L263.25 165.41 L263.90 163.77 L264.55 162.25 L265.20 160.85 L265.85 159.58 L266.50 158.45 L267.16 157.47 L267.81 156.65 L268.46 155.99 L269.11 155.48 L269.76 155.14 L270.41 154.95 L271.06 154.91 L271.72 155.02 L272.37 155.27 L273.02 155.66 L273.67 156.18 L274.32 156.83 L274.97 157.60 L275.62 158.47 L276.28 159.45 L276.93 160.50 L277.58 161.62 L278.23 162.79 L278.88 164.00 L279.53 165.23 L280.18 166.48 L280.84 167.73 L281.49 168.97 L282.14 170.21 L282.79 171.43 L283.44 172.63 L284.09 173.82 L284.75 174.98 L285.40 176.12 L286.05 177.25 L286.70 178.34 L287.35 179.42 L288.00 180.46 L288.65 181.49 L289.31 182.48 L289.96 183.45 L290.61 184.40 L291.26 185.33 L291.91 186.24 L292.56 187.12 L293.21 187.98 L293.87 188.81 L294.52 189.60 L295.17 190.37 L295.82 191.10 L296.47 191.78 L297.12 192.43 L297.77 193.04 L298.43 193.61 L299.08 194.14 L299.73 194.63 L300.38 195.08 L301.03 195.48 L301.68 195.84 L302.33 196.16 L302.99 196.43 L303.64 196.66 L304.29 196.85 L304.94 197.01 L305.59 197.15 L306.24 197.26 L306.89 197.35 L307.55 197.43 L308.20 197.50 L308.85 197.57 L309.50 197.64 L310.15 197.72 L310.80 197.80 L311.46 197.88 L312.11 197.96 L312.76 198.04 L313.41 198.11 L314.06 198.18 L314.71 198.24 L315.36 198.28 L316.02 198.30 L316.67 198.30 L317.32 198.30 L317.97 198.30 L318.62 198.30 L319.27 198.30 L319.92 198.30 L320.58 198.30 L321.23 198.30 L321.88 198.30 L322.53 198.30 L323.18 198.29 L323.83 198.29 L324.48 198.28 L325.14 198.28 L325.79 198.28 L326.44 198.28 L327.09 198.28 L327.74 198.28 L328.39 198.29 L329.04 198.29 L329.70 198.29 L330.35 198.30 L331.00 198.30 L331.65 198.30 L332.30 198.30 L332.95 198.30 L333.61 198.30 L334.26 198.30 L334.91 198.30 L335.56 198.30 L336.21 198.30 L336.86 198.30 L337.51 198.30 L338.17 198.30 L338.82 198.30 L339.47 198.30 L340.12 198.30 L340.77 198.30 L341.42 198.30 L342.07 198.30 L342.73 198.30 L343.38 198.30 L344.03 198.30 L344.68 198.30 L345.33 198.30 L345.98 198.30 L346.63 198.30 L347.29 198.30 L347.94 198.30 L348.59 198.30 L349.24 198.30 L349.89 198.30 L350.54 198.30 L351.19 198.30 L351.85 198.30 L352.50 198.30 L353.15 198.30 L353.80 198.30 L354.45 198.30 L355.10 198.30 L355.75 198.30 L356.41 198.30 L357.06 198.30 L357.71 198.30 L358.36 198.30 L359.01 198.30 L359.66 198.30 L360.32 198.30 L360.97 198.30 L361.62 198.30 L362.27 198.30 L362.92 198.30 L363.57 198.30 L364.22 198.30 L364.88 198.30 L365.53 198.30 L366.18 198.30 L366.83 198.30 L367.48 198.30 L368.13 198.30 L368.78 198.30 L369.44 198.30 L370.09 198.30 L370.74 198.30 L371.39 198.30 L372.04 198.30 L372.69 198.30 L373.34 198.30 L374.00 198.30 L374.65 198.30 L375.30 198.30 L375.95 198.30 L376.60 198.30 L377.25 198.30 L377.90 198.30 L378.56 198.30 L379.21 198.30 L379.86 198.30 L380.51 198.30 L381.16 198.30 L381.81 198.30 L382.46 198.30 L383.12 198.30 L383.77 198.30 L384.42 198.30 L385.07 198.30 L385.72 198.30 L386.37 198.30 L387.03 198.30 L387.68 198.30 L388.33 198.30 L388.98 198.30 L389.63 198.30 L390.28 198.30 L390.93 198.30 L391.59 198.30 L392.24 198.30 L392.89 198.30 L393.54 198.30 L394.19 198.30 L394.84 198.30 L395.49 198.30 L396.15 198.30 L396.80 198.30 L397.45 198.30 L398.10 198.30" fill="none" stroke="#3c3cff" stroke-opacity="0.45" stroke-width="2.90" stroke-linejoin="round" stroke-linecap="butt"/>
<path d="M242.40 197.90 L243.05 197.88 L243.70 197.86 L244.35 197.85 L245.01 197.85 L245.66 197.86 L246.31 197.88 L246.96 197.91 L247.61 197.96 L248.26 198.03 L248.91 198.10 L249.57 198.11 L250.22 198.03 L250.87 197.80 L251.52 197.38 L252.17 196.73 L252.82 195.84 L253.47 194.71 L254.13 193.34 L254.78 191.73 L255.43 189.93 L256.08 187.97 L256.73 185.88 L257.38 183.72 L258.04 181.52 L258.69 179.33 L259.34 177.15 L259.99 175.02 L260.64 172.95 L261.29 170.94 L261.94 169.01 L262.60 167.16 L263.25 165.41 L263.90 163.77 L264.55 162.25 L265.20 160.85 L265.85 159.58 L266.50 158.45 L267.16 157.47 L267.81 156.65 L268.46 155.99 L269.11 155.48 L269.76 155.14 L270.41 154.95 L271.06 154.91 L271.72 155.02 L272.37 155.27 L273.02 155.66 L273.67 156.18 L274.32 156.83 L274.97 157.60 L275.62 158.47 L276.28 159.45 L276.93 160.50 L277.58 161.62 L278.23 162.79 L278.88 164.00 L279.53 165.23 L280.18 166.48 L280.84 167.73 L281.49 168.97 L282.14 170.21 L282.79 171.43 L283.44 172.63 L284.09 173.82 L284.75 174.98 L285.40 176.12 L286.05 177.25 L286.70 178.34 L287.35 179.42 L288.00 180.46 L288.65 181.49 L289.31 182.48 L289.96 183.45 L290.61 184.40 L291.26 185.33 L291.91 186.24 L292.56 187.12 L293.21 187.98 L293.87 188.81 L294.52 189.60 L295.17 190.37 L295.82 191.10 L296.47 191.78 L297.12 192.43 L297.77 193.04 L298.43 193.61 L299.08 194.14 L299.73 194.63 L300.38 195.08 L301.03 195.48 L301.68 195.84 L302.33 196.16 L302.99 196.43 L303.64 196.66 L304.29 196.85 L304.94 197.01 L305.59 197.15 L306.24 197.26 L306.89 197.35 L307.55 197.43 L308.20 197.50 L308.85 197.57 L309.50 197.64 L310.15 197.72 L310.80 197.80 L311.46 197.88 L312.11 197.96 L312.76 198.04 L313.41 198.11 L314.06 198.18 L314.71 198.24 L315.36 198.28 L316.02 198.30 L316.67 198.30 L317.32 198.30 L317.97 198.30 L318.62 198.30 L319.27 198.30 L319.92 198.30 L320.58 198.30 L321.23 198.30 L321.88 198.30 L322.53 198.30 L323.18 198.29 L323.83 198.29 L324.48 198.28 L325.14 198.28 L325.79 198.28 L326.44 198.28 L327.09 198.28 L327.74 198.28 L328.39 198.29 L329.04 198.29 L329.70 198.29 L330.35 198.30 L331.00 198.30 L331.65 198.30 L332.30 198.30 L332.95 198.30 L333.61 198.30 L334.26 198.30 L334.91 198.30 L335.56 198.30 L336.21 198.30 L336.86 198.30 L337.51 198.30 L338.17 198.30 L338.82 198.30 L339.47 198.30 L340.12 198.30 L340.77 198.30 L341.42 198.30 L342.07 198.30 L342.73 198.30 L343.38 198.30 L344.03 198.30 L344.68 198.30 L345.33 198.30 L345.98 198.30 L346.63 198.30 L347.29 198.30 L347.94 198.30 L348.59 198.30 L349.24 198.30 L349.89 198.30 L350.54 198.30 L351.19 198.30 L351.85 198.30 L352.50 198.30 L353.15 198.30 L353.80 198.30 L354.45 198.30 L355.10 198.30 L355.75 198.30 L356.41 198.30 L357.06 198.30 L357.71 198.30 L358.36 198.30 L359.01 198.30 L359.66 198.30 L360.32 198.30 L360.97 198.30 L361.62 198.30 L362.27 198.30 L362.92 198.30 L363.57 198.30 L364.22 198.30 L364.88 198.30 L365.53 198.30 L366.18 198.30 L366.83 198.30 L367.48 198.30 L368.13 198.30 L368.78 198.30 L369.44 198.30 L370.09 198.30 L370.74 198.30 L371.39 198.30 L372.04 198.30 L372.69 198.30 L373.34 198.30 L374.00 198.30 L374.65 198.30 L375.30 198.30 L375.95 198.30 L376.60 198.30 L377.25 198.30 L377.90 198.30 L378.56 198.30 L379.21 198.30 L379.86 198.30 L380.51 198.30 L381.16 198.30 L381.81 198.30 L382.46 198.30 L383.12 198.30 L383.77 198.30 L384.42 198.30 L385.07 198.30 L385.72 198.30 L386.37 198.30 L387.03 198.30 L387.68 198.30 L388.33 198.30 L388.98 198.30 L389.63 198.30 L390.28 198.30 L390.93 198.30 L391.59 198.30 L392.24 198.30 L392.89 198.30 L393.54 198.30 L394.19 198.30 L394.84 198.30 L395.49 198.30 L396.15 198.30 L396.80 198.30 L397.45 198.30 L398.10 198.30" fill="none" stroke="#1212b8" stroke-width="1.80" stroke-linejoin="round" stroke-linecap="butt"/>
<text x="242.40" y="210.10" font-size="8.40" text-anchor="middle">0</text>
<text x="273.54" y="210.10" font-size="8.40" text-anchor="middle">1</text>
<text x="304.68" y="210.10" font-size="8.40" text-anchor="middle">2</text>
<text x="335.82" y="210.10" font-size="8.40" text-anchor="middle">3</text>
<text x="366.96" y="210.10" font-size="8.40" text-anchor="middle">4</text>
<text x="398.10" y="210.10" font-size="8.40" text-anchor="middle">5</text>
<text x="238.80" y="201.50" font-size="8.40" text-anchor="end">0</text>
<text x="238.80" y="165.60" font-size="8.40" text-anchor="end">10000</text>
<text x="238.80" y="129.70" font-size="8.40" text-anchor="end">20000</text>
<text x="319.95" y="223.10" font-size="9.20" text-anchor="middle">Frequency [rad/s]</text>
<text transform="translate(205.50 162.40) rotate(-90)" font-size="9.70" text-anchor="middle"><tspan dy="0.00">B</tspan><tspan font-size="6.79" dy="4.20">33</tspan><tspan dy="-4.20">(ω) [kg/s]</tspan></text>
<text x="201.00" y="119.90" font-size="13" font-weight="bold" style="fill:#000;stroke:#000;stroke-width:0.35px">D</text>
<line x1="63.54" y1="240.40" x2="63.54" y2="312.20" stroke="#f0f0f0" stroke-width="1"/>
<line x1="94.68" y1="240.40" x2="94.68" y2="312.20" stroke="#f0f0f0" stroke-width="1"/>
<line x1="125.82" y1="240.40" x2="125.82" y2="312.20" stroke="#f0f0f0" stroke-width="1"/>
<line x1="156.96" y1="240.40" x2="156.96" y2="312.20" stroke="#f0f0f0" stroke-width="1"/>
<line x1="32.40" y1="276.30" x2="188.10" y2="276.30" stroke="#f0f0f0" stroke-width="1"/>
<rect x="32.40" y="240.40" width="155.70" height="71.80" fill="none" stroke="#7a7a7a" stroke-width="1"/>
<line x1="32.40" y1="312.20" x2="32.40" y2="310.60" stroke="#7a7a7a" stroke-width="1"/>
<line x1="32.40" y1="240.40" x2="32.40" y2="242.00" stroke="#7a7a7a" stroke-width="1"/>
<line x1="63.54" y1="312.20" x2="63.54" y2="310.60" stroke="#7a7a7a" stroke-width="1"/>
<line x1="63.54" y1="240.40" x2="63.54" y2="242.00" stroke="#7a7a7a" stroke-width="1"/>
<line x1="94.68" y1="312.20" x2="94.68" y2="310.60" stroke="#7a7a7a" stroke-width="1"/>
<line x1="94.68" y1="240.40" x2="94.68" y2="242.00" stroke="#7a7a7a" stroke-width="1"/>
<line x1="125.82" y1="312.20" x2="125.82" y2="310.60" stroke="#7a7a7a" stroke-width="1"/>
<line x1="125.82" y1="240.40" x2="125.82" y2="242.00" stroke="#7a7a7a" stroke-width="1"/>
<line x1="156.96" y1="312.20" x2="156.96" y2="310.60" stroke="#7a7a7a" stroke-width="1"/>
<line x1="156.96" y1="240.40" x2="156.96" y2="242.00" stroke="#7a7a7a" stroke-width="1"/>
<line x1="188.10" y1="312.20" x2="188.10" y2="310.60" stroke="#7a7a7a" stroke-width="1"/>
<line x1="188.10" y1="240.40" x2="188.10" y2="242.00" stroke="#7a7a7a" stroke-width="1"/>
<line x1="32.40" y1="312.20" x2="34.00" y2="312.20" stroke="#7a7a7a" stroke-width="1"/>
<line x1="188.10" y1="312.20" x2="186.50" y2="312.20" stroke="#7a7a7a" stroke-width="1"/>
<line x1="32.40" y1="276.30" x2="34.00" y2="276.30" stroke="#7a7a7a" stroke-width="1"/>
<line x1="188.10" y1="276.30" x2="186.50" y2="276.30" stroke="#7a7a7a" stroke-width="1"/>
<line x1="32.40" y1="240.40" x2="34.00" y2="240.40" stroke="#7a7a7a" stroke-width="1"/>
<line x1="188.10" y1="240.40" x2="186.50" y2="240.40" stroke="#7a7a7a" stroke-width="1"/>
<path d="M32.40 312.20 L33.05 312.20 L33.70 312.20 L34.35 312.20 L35.01 312.14 L35.66 312.04 L36.31 311.87 L36.96 311.63 L37.61 311.27 L38.26 310.71 L38.91 309.84 L39.57 308.58 L40.22 306.87 L40.87 304.69 L41.52 302.04 L42.17 298.95 L42.82 295.48 L43.47 291.68 L44.13 287.67 L44.78 283.57 L45.43 279.55 L46.08 275.74 L46.73 272.31 L47.38 269.37 L48.04 266.99 L48.69 265.18 L49.34 263.91 L49.99 263.11 L50.64 262.73 L51.29 262.71 L51.94 262.98 L52.60 263.50 L53.25 264.23 L53.90 265.12 L54.55 266.14 L55.20 267.24 L55.85 268.40 L56.50 269.59 L57.16 270.80 L57.81 272.02 L58.46 273.27 L59.11 274.53 L59.76 275.81 L60.41 277.10 L61.06 278.38 L61.72 279.64 L62.37 280.87 L63.02 282.06 L63.67 283.23 L64.32 284.38 L64.97 285.51 L65.62 286.64 L66.28 287.75 L66.93 288.85 L67.58 289.93 L68.23 290.99 L68.88 292.02 L69.53 293.02 L70.18 293.99 L70.84 294.92 L71.49 295.82 L72.14 296.69 L72.79 297.52 L73.44 298.32 L74.09 299.08 L74.75 299.82 L75.40 300.52 L76.05 301.19 L76.70 301.85 L77.35 302.48 L78.00 303.09 L78.65 303.69 L79.31 304.28 L79.96 304.86 L80.61 305.41 L81.26 305.94 L81.91 306.44 L82.56 306.91 L83.21 307.34 L83.87 307.74 L84.52 308.10 L85.17 308.42 L85.82 308.72 L86.47 308.99 L87.12 309.23 L87.77 309.45 L88.43 309.65 L89.08 309.83 L89.73 310.00 L90.38 310.15 L91.03 310.28 L91.68 310.41 L92.33 310.52 L92.99 310.62 L93.64 310.71 L94.29 310.79 L94.94 310.86 L95.59 310.92 L96.24 310.98 L96.89 311.03 L97.55 311.08 L98.20 311.12 L98.85 311.16 L99.50 311.20 L100.15 311.23 L100.80 311.26 L101.46 311.29 L102.11 311.32 L102.76 311.35 L103.41 311.38 L104.06 311.42 L104.71 311.45 L105.36 311.49 L106.02 311.53 L106.67 311.58 L107.32 311.63 L107.97 311.68 L108.62 311.73 L109.27 311.78 L109.92 311.83 L110.58 311.89 L111.23 311.94 L111.88 311.99 L112.53 312.03 L113.18 312.08 L113.83 312.12 L114.48 312.15 L115.14 312.18 L115.79 312.20 L116.44 312.20 L117.09 312.20 L117.74 312.20 L118.39 312.20 L119.04 312.20 L119.70 312.20 L120.35 312.20 L121.00 312.20 L121.65 312.20 L122.30 312.20 L122.95 312.20 L123.61 312.20 L124.26 312.20 L124.91 312.20 L125.56 312.20 L126.21 312.19 L126.86 312.19 L127.51 312.19 L128.17 312.18 L128.82 312.18 L129.47 312.18 L130.12 312.18 L130.77 312.18 L131.42 312.18 L132.07 312.19 L132.73 312.19 L133.38 312.19 L134.03 312.19 L134.68 312.20 L135.33 312.20 L135.98 312.20 L136.63 312.20 L137.29 312.20 L137.94 312.20 L138.59 312.20 L139.24 312.20 L139.89 312.20 L140.54 312.20 L141.19 312.20 L141.85 312.20 L142.50 312.20 L143.15 312.20 L143.80 312.20 L144.45 312.20 L145.10 312.20 L145.75 312.20 L146.41 312.20 L147.06 312.20 L147.71 312.20 L148.36 312.20 L149.01 312.20 L149.66 312.20 L150.32 312.20 L150.97 312.20 L151.62 312.20 L152.27 312.20 L152.92 312.20 L153.57 312.20 L154.22 312.20 L154.88 312.20 L155.53 312.20 L156.18 312.20 L156.83 312.20 L157.48 312.20 L158.13 312.20 L158.78 312.20 L159.44 312.20 L160.09 312.20 L160.74 312.20 L161.39 312.20 L162.04 312.20 L162.69 312.20 L163.34 312.20 L164.00 312.20 L164.65 312.20 L165.30 312.20 L165.95 312.20 L166.60 312.20 L167.25 312.20 L167.90 312.20 L168.56 312.20 L169.21 312.20 L169.86 312.20 L170.51 312.20 L171.16 312.20 L171.81 312.20 L172.46 312.20 L173.12 312.20 L173.77 312.20 L174.42 312.20 L175.07 312.20 L175.72 312.20 L176.37 312.20 L177.03 312.20 L177.68 312.20 L178.33 312.20 L178.98 312.20 L179.63 312.20 L180.28 312.20 L180.93 312.20 L181.59 312.20 L182.24 312.20 L182.89 312.20 L183.54 312.20 L184.19 312.20 L184.84 312.20 L185.49 312.20 L186.15 312.20 L186.80 312.20 L187.45 312.20 L188.10 312.20" fill="none" stroke="#3c3cff" stroke-opacity="0.45" stroke-width="2.90" stroke-linejoin="round" stroke-linecap="butt"/>
<path d="M32.40 312.20 L33.05 312.20 L33.70 312.20 L34.35 312.20 L35.01 312.14 L35.66 312.04 L36.31 311.87 L36.96 311.63 L37.61 311.27 L38.26 310.71 L38.91 309.84 L39.57 308.58 L40.22 306.87 L40.87 304.69 L41.52 302.04 L42.17 298.95 L42.82 295.48 L43.47 291.68 L44.13 287.67 L44.78 283.57 L45.43 279.55 L46.08 275.74 L46.73 272.31 L47.38 269.37 L48.04 266.99 L48.69 265.18 L49.34 263.91 L49.99 263.11 L50.64 262.73 L51.29 262.71 L51.94 262.98 L52.60 263.50 L53.25 264.23 L53.90 265.12 L54.55 266.14 L55.20 267.24 L55.85 268.40 L56.50 269.59 L57.16 270.80 L57.81 272.02 L58.46 273.27 L59.11 274.53 L59.76 275.81 L60.41 277.10 L61.06 278.38 L61.72 279.64 L62.37 280.87 L63.02 282.06 L63.67 283.23 L64.32 284.38 L64.97 285.51 L65.62 286.64 L66.28 287.75 L66.93 288.85 L67.58 289.93 L68.23 290.99 L68.88 292.02 L69.53 293.02 L70.18 293.99 L70.84 294.92 L71.49 295.82 L72.14 296.69 L72.79 297.52 L73.44 298.32 L74.09 299.08 L74.75 299.82 L75.40 300.52 L76.05 301.19 L76.70 301.85 L77.35 302.48 L78.00 303.09 L78.65 303.69 L79.31 304.28 L79.96 304.86 L80.61 305.41 L81.26 305.94 L81.91 306.44 L82.56 306.91 L83.21 307.34 L83.87 307.74 L84.52 308.10 L85.17 308.42 L85.82 308.72 L86.47 308.99 L87.12 309.23 L87.77 309.45 L88.43 309.65 L89.08 309.83 L89.73 310.00 L90.38 310.15 L91.03 310.28 L91.68 310.41 L92.33 310.52 L92.99 310.62 L93.64 310.71 L94.29 310.79 L94.94 310.86 L95.59 310.92 L96.24 310.98 L96.89 311.03 L97.55 311.08 L98.20 311.12 L98.85 311.16 L99.50 311.20 L100.15 311.23 L100.80 311.26 L101.46 311.29 L102.11 311.32 L102.76 311.35 L103.41 311.38 L104.06 311.42 L104.71 311.45 L105.36 311.49 L106.02 311.53 L106.67 311.58 L107.32 311.63 L107.97 311.68 L108.62 311.73 L109.27 311.78 L109.92 311.83 L110.58 311.89 L111.23 311.94 L111.88 311.99 L112.53 312.03 L113.18 312.08 L113.83 312.12 L114.48 312.15 L115.14 312.18 L115.79 312.20 L116.44 312.20 L117.09 312.20 L117.74 312.20 L118.39 312.20 L119.04 312.20 L119.70 312.20 L120.35 312.20 L121.00 312.20 L121.65 312.20 L122.30 312.20 L122.95 312.20 L123.61 312.20 L124.26 312.20 L124.91 312.20 L125.56 312.20 L126.21 312.19 L126.86 312.19 L127.51 312.19 L128.17 312.18 L128.82 312.18 L129.47 312.18 L130.12 312.18 L130.77 312.18 L131.42 312.18 L132.07 312.19 L132.73 312.19 L133.38 312.19 L134.03 312.19 L134.68 312.20 L135.33 312.20 L135.98 312.20 L136.63 312.20 L137.29 312.20 L137.94 312.20 L138.59 312.20 L139.24 312.20 L139.89 312.20 L140.54 312.20 L141.19 312.20 L141.85 312.20 L142.50 312.20 L143.15 312.20 L143.80 312.20 L144.45 312.20 L145.10 312.20 L145.75 312.20 L146.41 312.20 L147.06 312.20 L147.71 312.20 L148.36 312.20 L149.01 312.20 L149.66 312.20 L150.32 312.20 L150.97 312.20 L151.62 312.20 L152.27 312.20 L152.92 312.20 L153.57 312.20 L154.22 312.20 L154.88 312.20 L155.53 312.20 L156.18 312.20 L156.83 312.20 L157.48 312.20 L158.13 312.20 L158.78 312.20 L159.44 312.20 L160.09 312.20 L160.74 312.20 L161.39 312.20 L162.04 312.20 L162.69 312.20 L163.34 312.20 L164.00 312.20 L164.65 312.20 L165.30 312.20 L165.95 312.20 L166.60 312.20 L167.25 312.20 L167.90 312.20 L168.56 312.20 L169.21 312.20 L169.86 312.20 L170.51 312.20 L171.16 312.20 L171.81 312.20 L172.46 312.20 L173.12 312.20 L173.77 312.20 L174.42 312.20 L175.07 312.20 L175.72 312.20 L176.37 312.20 L177.03 312.20 L177.68 312.20 L178.33 312.20 L178.98 312.20 L179.63 312.20 L180.28 312.20 L180.93 312.20 L181.59 312.20 L182.24 312.20 L182.89 312.20 L183.54 312.20 L184.19 312.20 L184.84 312.20 L185.49 312.20 L186.15 312.20 L186.80 312.20 L187.45 312.20 L188.10 312.20" fill="none" stroke="#1212b8" stroke-width="1.80" stroke-linejoin="round" stroke-linecap="butt"/>
<text x="32.40" y="324.00" font-size="8.40" text-anchor="middle">0</text>
<text x="63.54" y="324.00" font-size="8.40" text-anchor="middle">1</text>
<text x="94.68" y="324.00" font-size="8.40" text-anchor="middle">2</text>
<text x="125.82" y="324.00" font-size="8.40" text-anchor="middle">3</text>
<text x="156.96" y="324.00" font-size="8.40" text-anchor="middle">4</text>
<text x="188.10" y="324.00" font-size="8.40" text-anchor="middle">5</text>
<text x="28.80" y="315.40" font-size="8.40" text-anchor="end">0</text>
<text x="28.80" y="279.50" font-size="8.40" text-anchor="end">5</text>
<text x="28.80" y="243.60" font-size="8.40" text-anchor="end">10</text>
<text x="32.90" y="238.90" font-size="9.2">×</text>
<text x="39.70" y="238.50" font-size="8.8">10</text>
<text x="49.00" y="233.80" font-size="6.2">7</text>
<text x="109.95" y="337.00" font-size="9.20" text-anchor="middle">Frequency [rad/s]</text>
<text transform="translate(10.00 276.30) rotate(-90)" font-size="9.70" text-anchor="middle"><tspan dy="0.00">B</tspan><tspan font-size="6.79" dy="4.20">44</tspan><tspan dy="-4.20">(ω) [kg.m</tspan><tspan font-size="6.79" dy="-5.00">2</tspan><tspan dy="5.00">/s]</tspan></text>
<text x="3.50" y="234.80" font-size="13" font-weight="bold" style="fill:#000;stroke:#000;stroke-width:0.35px">E</text>
<line x1="273.54" y1="240.40" x2="273.54" y2="312.20" stroke="#f0f0f0" stroke-width="1"/>
<line x1="304.68" y1="240.40" x2="304.68" y2="312.20" stroke="#f0f0f0" stroke-width="1"/>
<line x1="335.82" y1="240.40" x2="335.82" y2="312.20" stroke="#f0f0f0" stroke-width="1"/>
<line x1="366.96" y1="240.40" x2="366.96" y2="312.20" stroke="#f0f0f0" stroke-width="1"/>
<line x1="242.40" y1="276.30" x2="398.10" y2="276.30" stroke="#f0f0f0" stroke-width="1"/>
<rect x="242.40" y="240.40" width="155.70" height="71.80" fill="none" stroke="#7a7a7a" stroke-width="1"/>
<line x1="242.40" y1="312.20" x2="242.40" y2="310.60" stroke="#7a7a7a" stroke-width="1"/>
<line x1="242.40" y1="240.40" x2="242.40" y2="242.00" stroke="#7a7a7a" stroke-width="1"/>
<line x1="273.54" y1="312.20" x2="273.54" y2="310.60" stroke="#7a7a7a" stroke-width="1"/>
<line x1="273.54" y1="240.40" x2="273.54" y2="242.00" stroke="#7a7a7a" stroke-width="1"/>
<line x1="304.68" y1="312.20" x2="304.68" y2="310.60" stroke="#7a7a7a" stroke-width="1"/>
<line x1="304.68" y1="240.40" x2="304.68" y2="242.00" stroke="#7a7a7a" stroke-width="1"/>
<line x1="335.82" y1="312.20" x2="335.82" y2="310.60" stroke="#7a7a7a" stroke-width="1"/>
<line x1="335.82" y1="240.40" x2="335.82" y2="242.00" stroke="#7a7a7a" stroke-width="1"/>
<line x1="366.96" y1="312.20" x2="366.96" y2="310.60" stroke="#7a7a7a" stroke-width="1"/>
<line x1="366.96" y1="240.40" x2="366.96" y2="242.00" stroke="#7a7a7a" stroke-width="1"/>
<line x1="398.10" y1="312.20" x2="398.10" y2="310.60" stroke="#7a7a7a" stroke-width="1"/>
<line x1="398.10" y1="240.40" x2="398.10" y2="242.00" stroke="#7a7a7a" stroke-width="1"/>
<line x1="242.40" y1="312.20" x2="244.00" y2="312.20" stroke="#7a7a7a" stroke-width="1"/>
<line x1="398.10" y1="312.20" x2="396.50" y2="312.20" stroke="#7a7a7a" stroke-width="1"/>
<line x1="242.40" y1="276.30" x2="244.00" y2="276.30" stroke="#7a7a7a" stroke-width="1"/>
<line x1="398.10" y1="276.30" x2="396.50" y2="276.30" stroke="#7a7a7a" stroke-width="1"/>
<line x1="242.40" y1="240.40" x2="244.00" y2="240.40" stroke="#7a7a7a" stroke-width="1"/>
<line x1="398.10" y1="240.40" x2="396.50" y2="240.40" stroke="#7a7a7a" stroke-width="1"/>
<path d="M242.40 312.20 L243.05 312.20 L243.70 312.20 L244.35 312.20 L245.01 312.20 L245.66 312.20 L246.31 312.20 L246.96 312.20 L247.61 312.20 L248.26 312.20 L248.91 312.20 L249.57 312.20 L250.22 312.20 L250.87 312.20 L251.52 312.20 L252.17 312.20 L252.82 312.20 L253.47 312.20 L254.13 312.20 L254.78 312.20 L255.43 312.20 L256.08 312.16 L256.73 312.12 L257.38 312.07 L258.04 312.02 L258.69 311.97 L259.34 311.91 L259.99 311.86 L260.64 311.80 L261.29 311.75 L261.94 311.69 L262.60 311.64 L263.25 311.59 L263.90 311.55 L264.55 311.51 L265.20 311.46 L265.85 311.42 L266.50 311.37 L267.16 311.32 L267.81 311.26 L268.46 311.20 L269.11 311.13 L269.76 311.05 L270.41 310.96 L271.06 310.87 L271.72 310.76 L272.37 310.65 L273.02 310.52 L273.67 310.38 L274.32 310.23 L274.97 310.07 L275.62 309.89 L276.28 309.70 L276.93 309.50 L277.58 309.28 L278.23 309.04 L278.88 308.78 L279.53 308.51 L280.18 308.22 L280.84 307.90 L281.49 307.57 L282.14 307.21 L282.79 306.83 L283.44 306.42 L284.09 305.98 L284.75 305.52 L285.40 305.03 L286.05 304.50 L286.70 303.94 L287.35 303.35 L288.00 302.72 L288.65 302.06 L289.31 301.35 L289.96 300.60 L290.61 299.81 L291.26 298.96 L291.91 298.08 L292.56 297.14 L293.21 296.15 L293.87 295.10 L294.52 294.00 L295.17 292.85 L295.82 291.63 L296.47 290.37 L297.12 289.05 L297.77 287.67 L298.43 286.25 L299.08 284.78 L299.73 283.25 L300.38 281.69 L301.03 280.08 L301.68 278.44 L302.33 276.78 L302.99 275.10 L303.64 273.42 L304.29 271.74 L304.94 270.09 L305.59 268.47 L306.24 266.91 L306.89 265.40 L307.55 263.97 L308.20 262.64 L308.85 261.40 L309.50 260.28 L310.15 259.27 L310.80 258.39 L311.46 257.64 L312.11 257.03 L312.76 256.54 L313.41 256.18 L314.06 255.95 L314.71 255.84 L315.36 255.86 L316.02 255.98 L316.67 256.21 L317.32 256.55 L317.97 256.97 L318.62 257.48 L319.27 258.06 L319.92 258.71 L320.58 259.42 L321.23 260.17 L321.88 260.97 L322.53 261.80 L323.18 262.66 L323.83 263.53 L324.48 264.42 L325.14 265.31 L325.79 266.20 L326.44 267.07 L327.09 267.94 L327.74 268.78 L328.39 269.61 L329.04 270.41 L329.70 271.18 L330.35 271.92 L331.00 272.63 L331.65 273.31 L332.30 273.97 L332.95 274.59 L333.61 275.19 L334.26 275.76 L334.91 276.30 L335.56 276.83 L336.21 277.33 L336.86 277.81 L337.51 278.28 L338.17 278.73 L338.82 279.18 L339.47 279.62 L340.12 280.06 L340.77 280.49 L341.42 280.92 L342.07 281.35 L342.73 281.78 L343.38 282.21 L344.03 282.64 L344.68 283.07 L345.33 283.50 L345.98 283.93 L346.63 284.36 L347.29 284.79 L347.94 285.22 L348.59 285.66 L349.24 286.09 L349.89 286.52 L350.54 286.95 L351.19 287.38 L351.85 287.80 L352.50 288.22 L353.15 288.63 L353.80 289.03 L354.45 289.43 L355.10 289.81 L355.75 290.19 L356.41 290.56 L357.06 290.92 L357.71 291.27 L358.36 291.60 L359.01 291.92 L359.66 292.24 L360.32 292.54 L360.97 292.83 L361.62 293.10 L362.27 293.37 L362.92 293.63 L363.57 293.88 L364.22 294.12 L364.88 294.35 L365.53 294.58 L366.18 294.80 L366.83 295.01 L367.48 295.22 L368.13 295.42 L368.78 295.62 L369.44 295.82 L370.09 296.02 L370.74 296.21 L371.39 296.40 L372.04 296.60 L372.69 296.79 L373.34 296.98 L374.00 297.17 L374.65 297.36 L375.30 297.55 L375.95 297.73 L376.60 297.91 L377.25 298.09 L377.90 298.27 L378.56 298.44 L379.21 298.61 L379.86 298.78 L380.51 298.94 L381.16 299.10 L381.81 299.25 L382.46 299.40 L383.12 299.54 L383.77 299.68 L384.42 299.82 L385.07 299.95 L385.72 300.08 L386.37 300.21 L387.03 300.33 L387.68 300.45 L388.33 300.57 L388.98 300.69 L389.63 300.79 L390.28 300.90 L390.93 301.00 L391.59 301.10 L392.24 301.19 L392.89 301.28 L393.54 301.37 L394.19 301.46 L394.84 301.54 L395.49 301.62 L396.15 301.70 L396.80 301.78 L397.45 301.86 L398.10 301.93" fill="none" stroke="#3c3cff" stroke-opacity="0.45" stroke-width="2.90" stroke-linejoin="round" stroke-linecap="butt"/>
<path d="M242.40 312.20 L243.05 312.20 L243.70 312.20 L244.35 312.20 L245.01 312.20 L245.66 312.20 L246.31 312.20 L246.96 312.20 L247.61 312.20 L248.26 312.20 L248.91 312.20 L249.57 312.20 L250.22 312.20 L250.87 312.20 L251.52 312.20 L252.17 312.20 L252.82 312.20 L253.47 312.20 L254.13 312.20 L254.78 312.20 L255.43 312.20 L256.08 312.16 L256.73 312.12 L257.38 312.07 L258.04 312.02 L258.69 311.97 L259.34 311.91 L259.99 311.86 L260.64 311.80 L261.29 311.75 L261.94 311.69 L262.60 311.64 L263.25 311.59 L263.90 311.55 L264.55 311.51 L265.20 311.46 L265.85 311.42 L266.50 311.37 L267.16 311.32 L267.81 311.26 L268.46 311.20 L269.11 311.13 L269.76 311.05 L270.41 310.96 L271.06 310.87 L271.72 310.76 L272.37 310.65 L273.02 310.52 L273.67 310.38 L274.32 310.23 L274.97 310.07 L275.62 309.89 L276.28 309.70 L276.93 309.50 L277.58 309.28 L278.23 309.04 L278.88 308.78 L279.53 308.51 L280.18 308.22 L280.84 307.90 L281.49 307.57 L282.14 307.21 L282.79 306.83 L283.44 306.42 L284.09 305.98 L284.75 305.52 L285.40 305.03 L286.05 304.50 L286.70 303.94 L287.35 303.35 L288.00 302.72 L288.65 302.06 L289.31 301.35 L289.96 300.60 L290.61 299.81 L291.26 298.96 L291.91 298.08 L292.56 297.14 L293.21 296.15 L293.87 295.10 L294.52 294.00 L295.17 292.85 L295.82 291.63 L296.47 290.37 L297.12 289.05 L297.77 287.67 L298.43 286.25 L299.08 284.78 L299.73 283.25 L300.38 281.69 L301.03 280.08 L301.68 278.44 L302.33 276.78 L302.99 275.10 L303.64 273.42 L304.29 271.74 L304.94 270.09 L305.59 268.47 L306.24 266.91 L306.89 265.40 L307.55 263.97 L308.20 262.64 L308.85 261.40 L309.50 260.28 L310.15 259.27 L310.80 258.39 L311.46 257.64 L312.11 257.03 L312.76 256.54 L313.41 256.18 L314.06 255.95 L314.71 255.84 L315.36 255.86 L316.02 255.98 L316.67 256.21 L317.32 256.55 L317.97 256.97 L318.62 257.48 L319.27 258.06 L319.92 258.71 L320.58 259.42 L321.23 260.17 L321.88 260.97 L322.53 261.80 L323.18 262.66 L323.83 263.53 L324.48 264.42 L325.14 265.31 L325.79 266.20 L326.44 267.07 L327.09 267.94 L327.74 268.78 L328.39 269.61 L329.04 270.41 L329.70 271.18 L330.35 271.92 L331.00 272.63 L331.65 273.31 L332.30 273.97 L332.95 274.59 L333.61 275.19 L334.26 275.76 L334.91 276.30 L335.56 276.83 L336.21 277.33 L336.86 277.81 L337.51 278.28 L338.17 278.73 L338.82 279.18 L339.47 279.62 L340.12 280.06 L340.77 280.49 L341.42 280.92 L342.07 281.35 L342.73 281.78 L343.38 282.21 L344.03 282.64 L344.68 283.07 L345.33 283.50 L345.98 283.93 L346.63 284.36 L347.29 284.79 L347.94 285.22 L348.59 285.66 L349.24 286.09 L349.89 286.52 L350.54 286.95 L351.19 287.38 L351.85 287.80 L352.50 288.22 L353.15 288.63 L353.80 289.03 L354.45 289.43 L355.10 289.81 L355.75 290.19 L356.41 290.56 L357.06 290.92 L357.71 291.27 L358.36 291.60 L359.01 291.92 L359.66 292.24 L360.32 292.54 L360.97 292.83 L361.62 293.10 L362.27 293.37 L362.92 293.63 L363.57 293.88 L364.22 294.12 L364.88 294.35 L365.53 294.58 L366.18 294.80 L366.83 295.01 L367.48 295.22 L368.13 295.42 L368.78 295.62 L369.44 295.82 L370.09 296.02 L370.74 296.21 L371.39 296.40 L372.04 296.60 L372.69 296.79 L373.34 296.98 L374.00 297.17 L374.65 297.36 L375.30 297.55 L375.95 297.73 L376.60 297.91 L377.25 298.09 L377.90 298.27 L378.56 298.44 L379.21 298.61 L379.86 298.78 L380.51 298.94 L381.16 299.10 L381.81 299.25 L382.46 299.40 L383.12 299.54 L383.77 299.68 L384.42 299.82 L385.07 299.95 L385.72 300.08 L386.37 300.21 L387.03 300.33 L387.68 300.45 L388.33 300.57 L388.98 300.69 L389.63 300.79 L390.28 300.90 L390.93 301.00 L391.59 301.10 L392.24 301.19 L392.89 301.28 L393.54 301.37 L394.19 301.46 L394.84 301.54 L395.49 301.62 L396.15 301.70 L396.80 301.78 L397.45 301.86 L398.10 301.93" fill="none" stroke="#1212b8" stroke-width="1.80" stroke-linejoin="round" stroke-linecap="butt"/>
<text x="242.40" y="324.00" font-size="8.40" text-anchor="middle">0</text>
<text x="273.54" y="324.00" font-size="8.40" text-anchor="middle">1</text>
<text x="304.68" y="324.00" font-size="8.40" text-anchor="middle">2</text>
<text x="335.82" y="324.00" font-size="8.40" text-anchor="middle">3</text>
<text x="366.96" y="324.00" font-size="8.40" text-anchor="middle">4</text>
<text x="398.10" y="324.00" font-size="8.40" text-anchor="middle">5</text>
<text x="238.80" y="315.40" font-size="8.40" text-anchor="end">0</text>
<text x="238.80" y="279.50" font-size="8.40" text-anchor="end">10</text>
<text x="238.80" y="243.60" font-size="8.40" text-anchor="end">20</text>
<text x="319.95" y="337.00" font-size="9.20" text-anchor="middle">Frequency [rad/s]</text>
<text transform="translate(220.00 276.30) rotate(-90)" font-size="9.70" text-anchor="middle"><tspan dy="0.00">B</tspan><tspan font-size="6.79" dy="4.20">66</tspan><tspan dy="-4.20">(ω) [kg.m</tspan><tspan font-size="6.79" dy="-5.00">2</tspan><tspan dy="5.00">/s]</tspan></text>
<text x="201.00" y="234.80" font-size="13" font-weight="bold" style="fill:#000;stroke:#000;stroke-width:0.35px">F</text>
</svg></body></html>
